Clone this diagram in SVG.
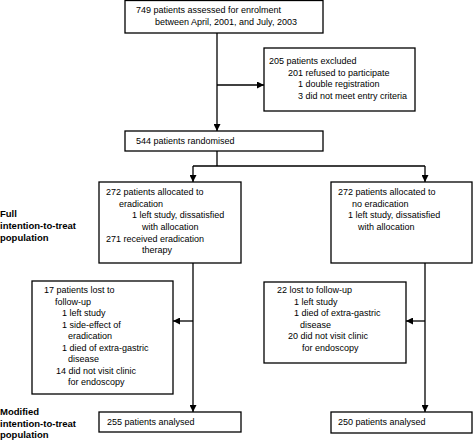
<svg xmlns="http://www.w3.org/2000/svg" width="474" height="440" viewBox="0 0 474 440">
<defs>
<marker id="ah" viewBox="0 0 10 10" refX="10" refY="5" markerWidth="7" markerHeight="7" markerUnits="userSpaceOnUse" orient="auto">
<path d="M0,0 L10,5 L0,10 z" fill="#000"/>
</marker>
</defs>
<style>
.box{fill:#fff;stroke:#000;stroke-width:1.3}
.t{font-family:"Liberation Sans",Arial,sans-serif;font-size:9px;fill:#000}
.lab{font-family:"Liberation Sans",Arial,sans-serif;font-size:9.5px;font-weight:bold;fill:#000}
.c{fill:none;stroke:#000;stroke-width:1.3}
</style>
<rect width="474" height="440" fill="#fff"/>
<g id="connectors">
<path class="c" d="M217,33 V131" marker-end="url(#ah)"/>
<path class="c" d="M217,85 H264" marker-end="url(#ah)"/>
<path class="c" d="M217,151 V166 M193,166 H425"/>
<path class="c" d="M193,166 V182" marker-end="url(#ah)"/>
<path class="c" d="M425,166 V182" marker-end="url(#ah)"/>
<path class="c" d="M193,263 V412" marker-end="url(#ah)"/>
<path class="c" d="M193,321 H173" marker-end="url(#ah)"/>
<path class="c" d="M425,263 V412" marker-end="url(#ah)"/>
<path class="c" d="M425,321 H406" marker-end="url(#ah)"/>
</g>
<g id="assessed">
<rect class="box" x="125" y="0.5" width="198" height="32.5"/>
<text class="t" x="136" y="13">749 patients assessed for enrolment</text>
<text class="t" x="155" y="25">between April, 2001, and July, 2003</text>
</g>
<g id="excluded">
<rect class="box" x="264" y="48" width="151" height="63"/>
<text class="t" x="269" y="64">205 patients excluded</text>
<text class="t" x="288" y="75.5">201 refused to participate</text>
<text class="t" x="298" y="87">1 double registration</text>
<text class="t" x="298" y="99">3 did not meet entry criteria</text>
</g>
<g id="randomised">
<rect class="box" x="125" y="131" width="198" height="20"/>
<text class="t" x="136" y="144">544 patients randomised</text>
</g>
<g id="alloc-erad">
<rect class="box" x="99" y="182" width="142" height="81"/>
<text class="t" x="106" y="195">272 patients allocated to</text>
<text class="t" x="119" y="207">eradication</text>
<text class="t" x="132" y="218">1 left study, dissatisfied</text>
<text class="t" x="142" y="230">with allocation</text>
<text class="t" x="106" y="242">271 received eradication</text>
<text class="t" x="142" y="253">therapy</text>
</g>
<g id="alloc-noerad">
<rect class="box" x="331" y="182" width="141" height="81"/>
<text class="t" x="338" y="195">272 patients allocated to</text>
<text class="t" x="352" y="207">no eradication</text>
<text class="t" x="348" y="218">1 left study, dissatisfied</text>
<text class="t" x="358" y="230">with allocation</text>
</g>
<g id="lost-erad">
<rect class="box" x="32" y="281" width="141" height="113"/>
<text class="t" x="44" y="293">17 patients lost to</text>
<text class="t" x="55" y="305">follow-up</text>
<text class="t" x="62" y="316">1 left study</text>
<text class="t" x="62" y="328">1 side-effect of</text>
<text class="t" x="68" y="339">eradication</text>
<text class="t" x="62" y="351">1 died of extra-gastric</text>
<text class="t" x="68" y="362">disease</text>
<text class="t" x="56" y="374">14 did not visit clinic</text>
<text class="t" x="68" y="385">for endoscopy</text>
</g>
<g id="lost-noerad">
<rect class="box" x="264" y="282" width="142" height="81"/>
<text class="t" x="277" y="293">22 lost to follow-up</text>
<text class="t" x="294" y="305">1 left study</text>
<text class="t" x="294" y="316">1 died of extra-gastric</text>
<text class="t" x="300" y="328">disease</text>
<text class="t" x="288" y="339">20 did not visit clinic</text>
<text class="t" x="302" y="351">for endoscopy</text>
</g>
<g id="analysed-erad">
<rect class="box" x="99" y="412" width="142" height="20"/>
<text class="t" x="107" y="425">255 patients analysed</text>
</g>
<g id="analysed-noerad">
<rect class="box" x="331" y="412" width="141" height="21"/>
<text class="t" x="338" y="425">250 patients analysed</text>
</g>
<g id="labels">
<text class="lab" x="0" y="217">Full</text>
<text class="lab" x="0" y="229">intention-to-treat</text>
<text class="lab" x="0" y="241">population</text>
<text class="lab" x="0" y="415">Modified</text>
<text class="lab" x="0" y="427">intention-to-treat</text>
<text class="lab" x="0" y="438">population</text>
</g>
</svg>
